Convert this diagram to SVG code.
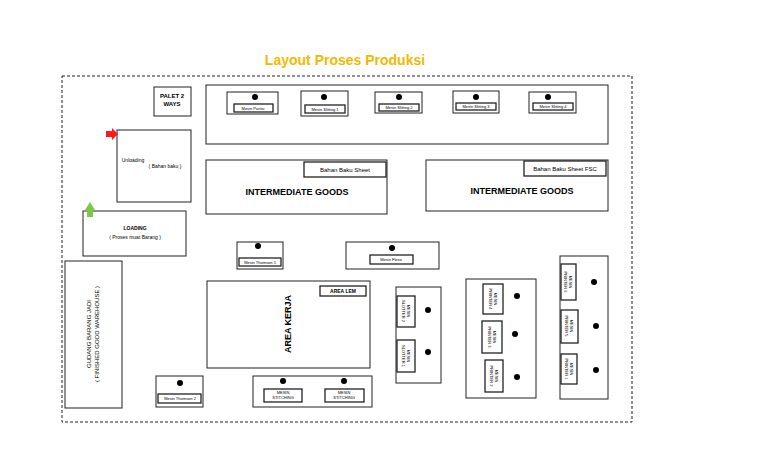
<svg xmlns="http://www.w3.org/2000/svg" width="768" height="466" viewBox="0 0 768 466">
<style>
.b{fill:#fff;stroke:#222;stroke-width:1}
.l{fill:#fff;stroke:#222;stroke-width:1.3}
.t{font-family:"Liberation Sans",Arial,sans-serif;fill:#000;text-anchor:middle}
.s{font-size:4px}
.m{font-size:6px;font-weight:bold}
.big{font-size:9px;font-weight:bold}
</style>
<rect width="768" height="466" fill="#fff"/>
<text x="345" y="65" class="t" style="font-size:14px;font-weight:bold;fill:#f5b800">Layout Proses Produksi</text>
<rect x="62" y="76" width="570" height="346" fill="none" stroke="#222" stroke-dasharray="3,2"/>
<g id="palet"><rect class="b" x="154" y="87" width="37" height="29"/><text class="t m" x="172" y="98">PALET 2</text><text class="t m" x="172" y="106">WAYS</text></g>
<g id="top-area"><rect class="b" x="206" y="85" width="402" height="59"/></g>
<g id="partisi"><rect class="b" x="227" y="92" width="51" height="22"/><circle cx="255" cy="97" r="3"/><rect class="l" x="234" y="104" width="39" height="8"/><text class="t s" x="253" y="110">Mesin Partisi</text></g>
<g id="slit1"><rect class="b" x="301" y="91" width="47" height="25"/><circle cx="324" cy="97" r="3"/><rect class="l" x="305" y="105" width="40" height="8"/><text class="t s" x="325" y="111">Mesin Slitting 1</text></g>
<g id="slit2"><rect class="b" x="375" y="92" width="47" height="21"/><circle cx="399" cy="97" r="3"/><rect class="l" x="379" y="104" width="40" height="7"/><text class="t s" x="399" y="109">Mesin Slitting 2</text></g>
<g id="slit3"><rect class="b" x="453" y="91" width="46" height="22"/><circle cx="476" cy="97" r="3"/><rect class="l" x="456" y="103" width="40" height="7"/><text class="t s" x="476" y="108">Mesin Slitting 3</text></g>
<g id="slit4"><rect class="b" x="529" y="92" width="47" height="21"/><circle cx="548" cy="97" r="3"/><rect class="l" x="533" y="103" width="40" height="7"/><text class="t s" x="553" y="108">Mesin Slitting 4</text></g>
<g id="unloading"><rect class="b" x="117" y="130" width="74" height="72"/><text class="t" style="font-size:5px" x="133" y="162">Unloading</text><text class="t" style="font-size:5px" x="165" y="168">( Bahan baku )</text></g>
<g id="loading"><rect class="b" x="83" y="211" width="103" height="45"/><text class="t" style="font-size:5px;font-weight:bold" x="135" y="230">LOADING</text><text class="t" style="font-size:5px" x="135" y="239">( Proses muat Barang  )</text></g>
<g id="connectors">
<path d="M106 131 h6 v-3 l6 6 l-6 6 v-3 h-6 z" fill="#ff1a1a"/>
<path d="M85 210 l5 -8 l5 8 h-2 v7 h-6 v-7 z" fill="#7ac943"/>
</g>
<g id="ig1"><rect class="b" x="206" y="160" width="181" height="54"/><rect class="l" x="304" y="162" width="82" height="15"/><text class="t" style="font-size:6px" x="345" y="172">Bahan Baku Sheet</text><text class="t big" x="297" y="195">INTERMEDIATE GOODS</text></g>
<g id="ig2"><rect class="b" x="426" y="160" width="182" height="51"/><rect class="l" x="524" y="161" width="82" height="15"/><text class="t" style="font-size:6px" x="565" y="171">Bahan Baku Sheet  FSC</text><text class="t big" x="522" y="194">INTERMEDIATE GOODS</text></g>
<g id="thomson1"><rect class="b" x="237" y="242" width="46" height="27"/><circle cx="258" cy="246" r="3"/><rect class="l" x="239" y="258" width="42" height="8"/><text class="t s" x="260" y="264">Mesin Thomson 1</text></g>
<g id="flexo"><rect class="b" x="346" y="242" width="93" height="27"/><circle cx="392" cy="248" r="3"/><rect class="l" x="370" y="255" width="43" height="9"/><text class="t s" x="391" y="261">Mesin  Flexo</text></g>
<g id="gudang"><rect class="b" x="65" y="261" width="57" height="147"/><text class="t" style="font-size:6px" transform="translate(91 334) rotate(-90)">GUDANG BARANG JADI</text><text class="t" style="font-size:6px" transform="translate(99 334) rotate(-90)">( FINISHED GOOD WAREHOUSE  )</text></g>
<g id="areakerja"><rect class="b" x="207" y="281" width="163" height="87"/><rect class="l" x="320" y="286" width="46" height="10"/><text class="t" style="font-size:5px;font-weight:bold" x="343" y="293">AREA LEM</text><text class="t big" transform="translate(291 324) rotate(-90)">AREA KERJA</text></g>
<g id="thomson2"><rect class="b" x="156" y="376" width="47" height="31"/><circle cx="180" cy="383" r="3"/><rect class="l" x="158" y="394" width="43" height="9"/><text class="t s" x="180" y="400">Mesin Thomson 2</text></g>
<g id="stitching"><rect class="b" x="253" y="376" width="119" height="31"/><circle cx="283" cy="381" r="3"/><circle cx="344" cy="381" r="3"/><rect class="l" x="264" y="389" width="38" height="13"/><rect class="l" x="325" y="389" width="39" height="13"/><text class="t s" x="283" y="394">MESIN</text><text class="t s" x="283" y="399">STITCHING</text><text class="t s" x="344" y="394">MESIN</text><text class="t s" x="344" y="399">STITCHING</text></g>
<g id="slotter"><rect class="b" x="396" y="287" width="45" height="96"/><circle cx="428" cy="310" r="3"/><circle cx="428" cy="352" r="3"/>
<rect class="l" x="397" y="296" width="18" height="31"/><text class="t s" transform="translate(406 311) rotate(90)"><tspan x="0" y="-1">MESIN</tspan><tspan x="0" y="4">SLOTTER 2</tspan></text>
<rect class="l" x="397" y="340" width="18" height="32"/><text class="t s" transform="translate(406 356) rotate(90)"><tspan x="0" y="-1">MESIN</tspan><tspan x="0" y="4">SLOTTER 1</tspan></text></g>
<g id="printer-a"><rect class="b" x="466" y="279" width="70" height="119"/><circle cx="517" cy="296" r="3"/><circle cx="515" cy="334" r="3"/><circle cx="517" cy="377" r="3"/>
<rect class="l" x="483" y="284" width="20" height="30"/><text class="t s" transform="translate(493 299) rotate(90)"><tspan x="0" y="-1">MESIN</tspan><tspan x="0" y="4">PRINTER 4</tspan></text>
<rect class="l" x="482" y="321" width="20" height="32"/><text class="t s" transform="translate(492 337) rotate(90)"><tspan x="0" y="-1">MESIN</tspan><tspan x="0" y="4">PRINTER 3</tspan></text>
<rect class="l" x="485" y="360" width="18" height="32"/><text class="t s" transform="translate(494 376) rotate(90)"><tspan x="0" y="-1">MESIN</tspan><tspan x="0" y="4">PRINTER 2</tspan></text></g>
<g id="printer-b"><rect class="b" x="560" y="256" width="48" height="143"/><circle cx="594" cy="282" r="3"/><circle cx="596" cy="326" r="3"/><circle cx="596" cy="370" r="3"/>
<rect class="l" x="561" y="264" width="15" height="36"/><text class="t s" transform="translate(568 282) rotate(90)"><tspan x="0" y="-1">MESIN</tspan><tspan x="0" y="4">PRINTER 6</tspan></text>
<rect class="l" x="561" y="310" width="17" height="33"/><text class="t s" transform="translate(569 326) rotate(90)"><tspan x="0" y="-1">MESIN</tspan><tspan x="0" y="4">PRINTER 5</tspan></text>
<rect class="l" x="561" y="354" width="16" height="30"/><text class="t s" transform="translate(569 369) rotate(90)"><tspan x="0" y="-1">MESIN</tspan><tspan x="0" y="4">PRINTER 1</tspan></text></g>
</svg>
